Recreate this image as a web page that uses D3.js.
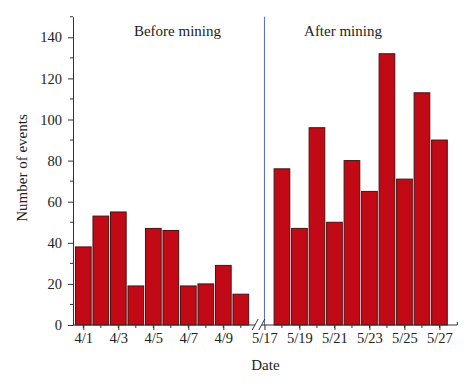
<!DOCTYPE html>
<html>
<head>
<meta charset="utf-8">
<script src="https://cdn.jsdelivr.net/npm/d3@7"></script>
<style>
  body { margin: 0; background: #fff; }
  text { font-family: "Liberation Serif", "DejaVu Serif", serif; fill: #222; }
</style>
</head>
<body>
<div id="chart"></div>
<script>
const width = 474;
const height = 387;

// data
const beforeDates = ['4/1', '4/2', '4/3', '4/4', '4/5', '4/6', '4/7', '4/8', '4/9', '4/10'];
const beforeCounts = [38, 53, 55, 19, 47, 46, 19, 20, 29, 15];
const afterDates = ['5/18', '5/19', '5/20', '5/21', '5/22', '5/23', '5/24', '5/25', '5/26', '5/27'];
const afterCounts = [76, 47, 96, 50, 80, 65, 132, 71, 113, 90];
const tickLabels = ['4/1', '4/3', '4/5', '4/7', '4/9', '5/17', '5/19', '5/21', '5/23', '5/25', '5/27'];
const yTicks = [0, 20, 40, 60, 80, 100, 120, 140];

// slot position on the x axis (the break shifts May days)
const gapStart = 10.35; // slot of 5/17
function slot(label) {
  const i = beforeDates.indexOf(label);
  if (i >= 0) return i;
  const day = +label.split('/')[1];
  return gapStart + (day - 17);
}

const bars = beforeDates.map((d, i) => ({ date: d, value: beforeCounts[i] }))
  .concat(afterDates.map((d, i) => ({ date: d, value: afterCounts[i] })));

const svg = d3.select('#chart').append('svg')
  .attr('width', width)
  .attr('height', height);

const x = d3.scaleLinear()
  .domain([-0.59, 21.37])
  .range([73, 457.3]);

const y = d3.scaleLinear()
  .domain([0, 150])
  .range([325, 16.75]);

const step = x(1) - x(0);
const barW = step - 1.8;

// bars
svg.selectAll('.bar')
  .data(bars)
  .enter()
  .append('rect')
  .attr('class', 'bar')
  .attr('x', d => x(slot(d.date)) - barW / 2)
  .attr('y', d => y(d.value))
  .attr('width', barW)
  .attr('height', d => y(0) - y(d.value))
  .attr('fill', '#c10a16')
  .attr('stroke', '#4a1212')
  .attr('stroke-width', 1);

// separator line
svg.append('line')
  .attr('x1', x(gapStart)).attr('x2', x(gapStart))
  .attr('y1', y(150)).attr('y2', y(0))
  .attr('stroke', '#5566c4')
  .attr('stroke-width', 1);

// y axis
const yAxis = svg.append('g')
  .attr('transform', 'translate(' + x.range()[0] + ',0)');

yAxis.call(d3.axisLeft(y).tickValues(yTicks).tickSize(5).tickPadding(6).tickSizeOuter(0))
  .call(g => g.selectAll('text').style('font-size', '14.5px').style('font-family', '"Liberation Serif", serif').attr('fill', '#222'))
  .call(g => g.selectAll('line, path').attr('stroke', '#333'));

yAxis.selectAll('.minor')
  .data(d3.range(10, 151, 20))
  .enter()
  .append('line')
  .attr('class', 'minor')
  .attr('x1', 0).attr('x2', -3)
  .attr('y1', d => y(d)).attr('y2', d => y(d))
  .attr('stroke', '#333');

// x axis (broken)
const xAxis = svg.append('g')
  .attr('transform', 'translate(0,' + y(0) + ')');

xAxis.call(d3.axisBottom(x)
    .tickValues(tickLabels.map(slot))
    .tickFormat((d, i) => tickLabels[i])
    .tickSize(5).tickPadding(3).tickSizeOuter(0))
  .call(g => g.select('.domain').remove())
  .call(g => g.selectAll('text').style('font-size', '14.5px').style('font-family', '"Liberation Serif", serif').attr('fill', '#222'))
  .call(g => g.selectAll('line').attr('stroke', '#333'));

const minorSlots = beforeDates.map(slot).concat(afterDates.map(slot));
xAxis.selectAll('.minor')
  .data(minorSlots)
  .enter()
  .append('line')
  .attr('class', 'minor')
  .attr('x1', d => x(d)).attr('x2', d => x(d))
  .attr('y1', 0).attr('y2', 3)
  .attr('stroke', '#333');

const breakL = 9.82;
const breakR = 10.2;
xAxis.append('line')
  .attr('x1', x.range()[0]).attr('x2', x(breakL))
  .attr('stroke', '#333');
xAxis.append('line')
  .attr('x1', x(breakR)).attr('x2', x.range()[1])
  .attr('stroke', '#333');
xAxis.append('line')
  .attr('x1', x.range()[1]).attr('x2', x.range()[1])
  .attr('y1', 0).attr('y2', -3)
  .attr('stroke', '#333');

// break marks
xAxis.selectAll('.brk')
  .data([breakL, breakR])
  .enter()
  .append('line')
  .attr('class', 'brk')
  .attr('x1', d => x(d) - 3).attr('x2', d => x(d) + 3)
  .attr('y1', 5).attr('y2', -6)
  .attr('stroke', '#333');

// labels
svg.append('text')
  .attr('x', 177.5).attr('y', 36)
  .attr('text-anchor', 'middle')
  .style('font-size', '15px')
  .text('Before mining');

svg.append('text')
  .attr('x', 343).attr('y', 36)
  .attr('text-anchor', 'middle')
  .style('font-size', '15px')
  .text('After mining');

svg.append('text')
  .attr('x', x(gapStart) + 1).attr('y', 370)
  .attr('text-anchor', 'middle')
  .style('font-size', '15px')
  .text('Date');

svg.append('text')
  .attr('transform', 'translate(27,168) rotate(-90)')
  .attr('text-anchor', 'middle')
  .style('font-size', '15px')
  .text('Number of events');
</script>
</body>
</html>
